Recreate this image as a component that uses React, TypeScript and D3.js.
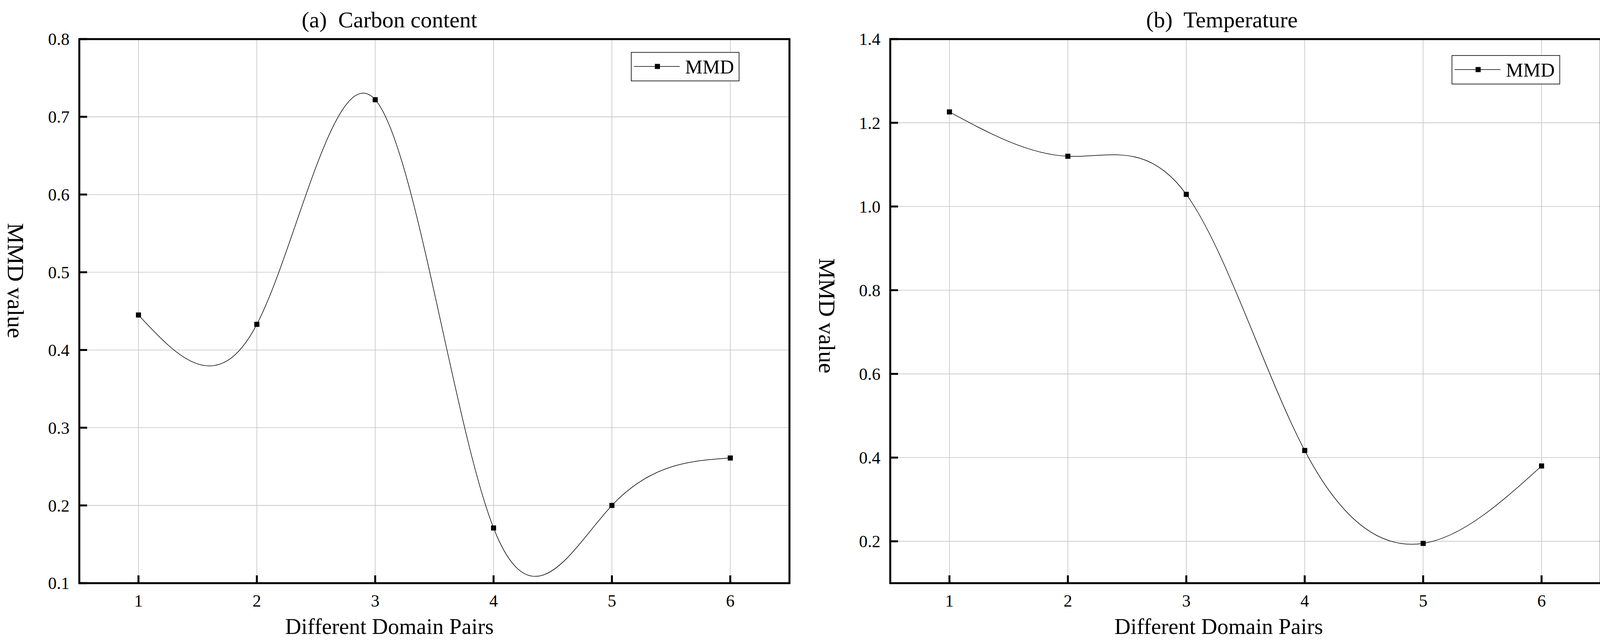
import * as d3 from 'd3'

// ── data ─────────────────────────────────────────────────────────────────────
const PAIRS        = [1, 2, 3, 4, 5, 6]
const CARBON_MMD   = [0.445, 0.433, 0.722, 0.171, 0.200, 0.261]
const TEMP_MMD     = [1.226, 1.120, 1.029, 0.417, 0.195, 0.380]
const CARBON_TICKS = [0.1, 0.2, 0.3, 0.4, 0.5, 0.6, 0.7, 0.8]
const TEMP_TICKS   = [0.2, 0.4, 0.6, 0.8, 1.0, 1.2, 1.4]

// ── constants ────────────────────────────────────────────────────────────────
const W      = 4120
const H      = 1640
const FONT   = '"Liberation Serif", "Times New Roman", serif'
const CGRID  = '#c4c4c4'
const AXIS_W = 5
const TICK_L = 20

type Box = { left: number; right: number; top: number; bottom: number }

type PanelProps = {
  box:       Box
  values:    number[]
  yDomain:   [number, number]
  yTicks:    number[]
  title:     string
  titleX:    number
  xTitleX:   number
  yTitleX:   number
  yTitleY:   number
  legend:    { x: number; y: number }
}

function Panel({ box, values, yDomain, yTicks, title, titleX, xTitleX, yTitleX, yTitleY, legend }: PanelProps) {
  const x = d3.scaleLinear().domain([0.5, 6.5]).range([box.left, box.right])
  const y = d3.scaleLinear().domain(yDomain).range([box.bottom, box.top])
  const pts = PAIRS.map((p, i) => ({ p, v: values[i] }))

  const line = d3.line<typeof pts[0]>()
    .x(d => x(d.p))
    .y(d => y(d.v))
    .curve(d3.curveNatural)

  const MK = 13
  const gridY = yTicks.filter(t => y(t) > box.top + 2 && y(t) < box.bottom - 2)

  return (
    <g fontFamily={FONT} fill="#000">
      {/* grid */}
      {PAIRS.map(p => (
        <line key={'gx' + p} x1={x(p)} x2={x(p)} y1={box.top} y2={box.bottom}
          stroke={CGRID} strokeWidth={1.6} />
      ))}
      {gridY.map(t => (
        <line key={'gy' + t} x1={box.left} x2={box.right} y1={y(t)} y2={y(t)}
          stroke={CGRID} strokeWidth={1.6} />
      ))}

      {/* series */}
      <path d={line(pts) ?? ''} fill="none" stroke="#000" strokeWidth={1.5} />
      {pts.map(d => (
        <rect key={'m' + d.p} x={x(d.p) - MK / 2} y={y(d.v) - MK / 2} width={MK} height={MK} fill="#000" />
      ))}

      {/* ticks (inward) */}
      {PAIRS.map(p => (
        <line key={'tx' + p} x1={x(p)} x2={x(p)} y1={box.bottom} y2={box.bottom - TICK_L}
          stroke="#000" strokeWidth={AXIS_W} />
      ))}
      {yTicks.map(t => (
        <line key={'ty' + t} x1={box.left} x2={box.left + TICK_L} y1={y(t)} y2={y(t)}
          stroke="#000" strokeWidth={AXIS_W} />
      ))}

      {/* frame */}
      <rect x={box.left} y={box.top} width={box.right - box.left} height={box.bottom - box.top}
        fill="none" stroke="#000" strokeWidth={AXIS_W} />

      {/* tick labels */}
      {PAIRS.map(p => (
        <text key={'lx' + p} x={x(p)} y={box.bottom + 60} textAnchor="middle" fontSize={44}>{p}</text>
      ))}
      {yTicks.map(t => (
        <text key={'ly' + t} x={box.left - 25} y={y(t)} dy="0.35em" textAnchor="end" fontSize={44}>
          {d3.format('.1f')(t)}
        </text>
      ))}

      {/* titles */}
      <text x={titleX} y={70} textAnchor="middle" fontSize={58} style={{ whiteSpace: 'pre' }}>{title}</text>
      <text x={xTitleX} y={1622} textAnchor="middle" fontSize={57}>Different Domain Pairs</text>
      <text transform={`translate(${yTitleX},${yTitleY}) rotate(90)`} textAnchor="middle" fontSize={60}>MMD value</text>

      {/* legend */}
      <g transform={`translate(${legend.x},${legend.y})`}>
        <rect x={0} y={0} width={276} height={73} fill="#fff" stroke="#000" strokeWidth={1.6} />
        <line x1={7} x2={124} y1={36} y2={36} stroke="#000" strokeWidth={1.5} />
        <rect x={67 - MK / 2} y={36 - MK / 2} width={MK} height={MK} fill="#000" />
        <text x={138} y={54} fontSize={50}>MMD</text>
      </g>
    </g>
  )
}

export default function App() {
  const boxA: Box = { left: 203, right: 2021, top: 100, bottom: 1492 }
  const boxB: Box = { left: 2279, right: 4098, top: 100, bottom: 1492 }
  return (
    <svg width={W} height={H} viewBox={`0 0 ${W} ${H}`}
      style={{ position: 'absolute', left: 0, top: 0, background: '#fff', display: 'block' }}>
      <rect width={W} height={H} fill="#fff" />
      <Panel box={boxA} values={CARBON_MMD} yDomain={[0.1, 0.8]} yTicks={CARBON_TICKS}
        title="(a)  Carbon content" titleX={997} xTitleX={997} yTitleX={20} yTitleY={718}
        legend={{ x: 1616, y: 134 }} />
      <Panel box={boxB} values={TEMP_MMD} yDomain={[0.1, 1.4]} yTicks={TEMP_TICKS}
        title="(b)  Temperature" titleX={3128} xTitleX={3120} yTitleX={2097} yTitleY={808}
        legend={{ x: 3717, y: 142 }} />
    </svg>
  )
}
